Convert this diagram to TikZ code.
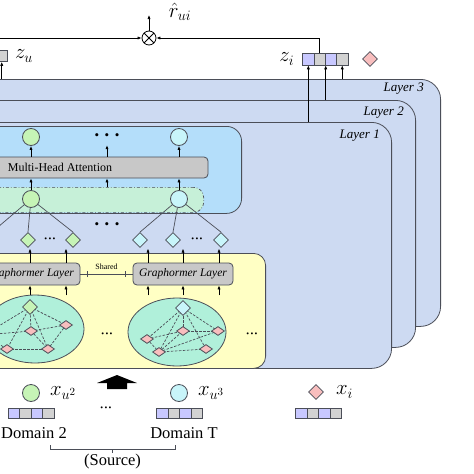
\documentclass[tikz,border=0pt]{standalone}
\usepackage{fontspec}
\setmainfont{Liberation Serif}
\usetikzlibrary{positioning,shapes.geometric,arrows.meta}
\definecolor{edgec}{RGB}{75,78,88}
\definecolor{laybg}{RGB}{205,218,242}
\definecolor{attbg}{RGB}{180,222,250}
\definecolor{bandbg}{RGB}{198,240,216}
\definecolor{boxgray}{RGB}{200,200,200}
\definecolor{greenn}{RGB}{198,244,182}
\definecolor{cyann}{RGB}{200,245,250}
\definecolor{pinkn}{RGB}{248,190,190}
\definecolor{yelbg}{RGB}{255,255,196}
\definecolor{ellbg}{RGB}{176,240,218}
\definecolor{embp}{RGB}{200,200,255}
\definecolor{embg}{RGB}{210,210,210}

\begin{document}
\begin{tikzpicture}[x=1pt,y=-1pt,
every node/.style={inner sep=0pt},
frame/.style={draw=edgec,line width=.8pt},
layer/.style={frame,rectangle,fill=laybg,rounded corners=20pt,anchor=north east,minimum width=480pt,minimum height=247pt},
lablay/.style={font=\fontsize{13}{13}\selectfont\itshape},
gbox/.style={frame,rectangle,fill=boxgray,rounded corners=4pt},
cnode/.style={frame,circle,minimum size=17pt},
dnode/.style={frame,diamond,minimum width=15pt,minimum height=15pt},
sdia/.style={frame,diamond,fill=pinkn,minimum width=13pt,minimum height=9pt},
cell/.style={draw=edgec,line width=.6pt,rectangle,minimum width=11.5pt,minimum height=10pt},
arr/.style={-{Latex[length=4pt,width=3.2pt]},line width=.7pt},
link/.style={draw=edgec,line width=.7pt},
dlink/.style={link,dashed,dash pattern=on 2.5pt off 1.5pt},
bigdots/.style={font=\fontsize{13}{13}\selectfont,minimum height=16pt},
smdots/.style={font=\fontsize{8}{8}\selectfont},
mathlab/.style={font=\fontsize{22}{22}\selectfont},
dtext/.style={font=\fontsize{16.5}{16.5}\selectfont}]
\useasboundingbox (0,0) rectangle (474,474);
\clip (0,0) rectangle (474,474);

% stacked layers
\node (lay3) [layer] at (441,79) {};
\node (lay2) [layer] at (416,100) {};
\node (lay1) [layer,minimum height=246pt] at (392,122) {};
\node (lab3) [lablay,below left=4pt and 17pt of lay3.north east] {Layer 3};
\node (lab2) [lablay,below left=7pt and 12pt of lay2.north east] {Layer 2};
\node (lab1) [lablay,below left=8pt and 12pt of lay1.north east] {Layer 1};

% attention part
\node (att) [frame,fill=attbg,rounded corners=15pt,anchor=north east,minimum width=300pt,minimum height=87pt] at (242,126) {};
\node (mha) [gbox,minimum width=296pt,minimum height=21pt,font=\fontsize{12}{12}\selectfont] at (60,167.5) {Multi-Head Attention};
\node (band) [draw=edgec,line width=.7pt,dash dot,fill=bandbg,rounded corners=10pt,anchor=north east,minimum width=250pt,minimum height=25pt] at (204,187) {};

\node (ho1) [cnode,fill=greenn] at (31,137) {};
\node (hodots) [bigdots] at (107,137) {\textbullet\hspace{5.5pt}\textbullet\hspace{5.5pt}\textbullet};
\node (ho3) [cnode,fill=cyann] at (179,137) {};
\node (hg1) [cnode,fill=greenn] at (31,199) {};
\node (hg3) [cnode,fill=cyann] at (179,199) {};
\coordinate (hgdots) at (107,187);

\foreach \n in {ho1,hodots,ho3}
  \draw[arr] (mha.north -| \n) -- (\n.south);
\foreach \n in {hg1,hg3}
  \draw[arr] (\n.north) -- (mha.south -| \n);
\draw[arr] (hgdots) -- (mha.south -| hgdots);

% graphormer outputs
\node (dg0) [dnode,fill=greenn] at (-8,240) {};
\node (dg1) [dnode,fill=greenn] at (28,240) {};
\node (dgdots) [smdots] at (50,240) {\textbullet\,\textbullet\,\textbullet};
\node (dg2) [dnode,fill=greenn] at (73,240) {};
\node (dc0) [dnode,fill=cyann] at (140,240) {};
\node (dc1) [dnode,fill=cyann] at (173,240) {};
\node (dcdots) [smdots] at (197,240) {\textbullet\,\textbullet\,\textbullet};
\node (dc2) [dnode,fill=cyann] at (221,240) {};
\node (mdots) [bigdots] at (107,226) {\textbullet\hspace{5.5pt}\textbullet\hspace{5.5pt}\textbullet};
\foreach \d in {dg0,dg1,dg2}
  \draw[link] (hg1) -- (\d.north);
\foreach \d in {dc0,dc1,dc2}
  \draw[link] (hg3) -- (\d.north);

% graphormer part
\node (yel) [frame,fill=yelbg,rounded corners=12pt,anchor=north east,minimum width=300pt,minimum height=115pt] at (266,253) {};
\node (gr1) [gbox,minimum width=100pt,minimum height=22pt,font=\fontsize{11.5}{11.5}\selectfont\itshape] at (30,274) {Graphormer Layer};
\node (gr2) [gbox,minimum width=100pt,minimum height=22pt,font=\fontsize{11.5}{11.5}\selectfont\itshape] at (183,274) {Graphormer Layer};
\draw[link] (gr1.east) -- (gr2.west);
\draw[link,{Bar[width=6pt]}-{Bar[width=6pt]},shorten <=7pt,shorten >=7pt] (gr1.east) -- (gr2.west)
  node (shr) [midway,above=4.5pt,font=\fontsize{8}{8}\selectfont] {Shared};
\foreach \g in {gr1,gr2}
  \foreach \dx in {-35,0,36} {
    \draw[arr] ([xshift=\dx pt]\g.north) -- ([xshift=\dx pt,yshift=14pt]\g.north);
    \draw[arr] ([xshift=\dx pt,yshift=-10pt]\g.south) -- ([xshift=\dx pt]\g.south);
  }

% subgraphs
\node (ell1) [frame,ellipse,fill=ellbg,minimum width=98pt,minimum height=68pt] at (35,329) {};
\node (ell2) [frame,ellipse,fill=ellbg,minimum width=98pt,minimum height=68pt] at (177,332) {};
\coordinate (p10) at (-16,335);
\coordinate (p11) at (31,331);
\coordinate (p12) at (66,325);
\coordinate (p13) at (7,349);
\coordinate (p14) at (48,349);
\coordinate (et1) at (30,307);
\coordinate (p21) at (183,331);
\coordinate (p22) at (218,331);
\coordinate (p23) at (147,339);
\coordinate (p24) at (159,352);
\coordinate (p25) at (206,349);
\coordinate (et2) at (183,308);
\foreach \a/\b in {et1/p10,et1/p11,et1/p12,et1/p13,et1/p14,p11/p12,p13/p14,p12/p14,p10/p11,p10/p13,p11/p14}
  \draw[dlink] (\a) -- (\b);
\foreach \a/\b in {et2/p21,et2/p22,et2/p23,et2/p24,et2/p25,p23/p21,p21/p22,p24/p22,p24/p25,p23/p24,p24/p21}
  \draw[dlink] (\a) -- (\b);
\foreach \n in {p10,p11,p12,p13,p14,p21,p22,p23,p24,p25}
  \node (d\n) [sdia] at (\n) {};
\node (det1) [dnode,fill=greenn] at (et1) {};
\node (det2) [dnode,fill=cyann] at (et2) {};
\node (sdots1) [smdots] at (107,335) {\textbullet\,\textbullet\,\textbullet};
\node (sdots2) [smdots] at (252,335) {\textbullet\,\textbullet\,\textbullet};

% outputs and prediction
\foreach \i/\c in {1/embp,2/embg,3/embp,4/embg}
  \node (zi\i) [cell,fill=\c,minimum height=12pt] at ({302.7+(\i-.5)*11.3},59) {};
\node (zu4) [cell,fill=embg,minimum height=11pt] at (1.75,56) {};
\node (zulab) [mathlab,right=7pt of zu4] {$z_u$};
\node (zilab) [mathlab,left=8pt of zi1] {$z_i$};
\node (zidia) [dnode,fill=pinkn] at (370,59) {};
\draw[arr] (lay3.north -| zu4) -- (zu4.south);
\draw[arr] (lay1.north -| zi1) -- (zi1.south);
\draw[arr] (lay2.north -| zi2.east) -- (zi2.south east);
\draw[arr] (lay3.north -| zi4) -- (zi4.south);

\node (otimes) [draw,line width=.8pt,circle,minimum size=14pt,
  path picture={\draw[line width=.8pt] (path picture bounding box.north west) -- (path picture bounding box.south east)
  (path picture bounding box.north east) -- (path picture bounding box.south west);}] at (149,38) {};
\coordinate (zuline) at (-5,38);
\coordinate (rtop) at (149,15);
\draw[arr] (zuline) -- (otimes);
\draw[arr] (zi2.north) |- (otimes);
\draw[arr] (otimes) -- (rtop);
\node (rlab) [mathlab] at (180,12) {$\hat{r}_{ui}$};

% inputs
\fill (97,383) -- (117,375) -- (137,383) -- (127,383) -- (127,389) -- (107,389) -- (107,383) -- cycle;
\node (xu2) [cnode,fill=greenn] at (31,393) {};
\node (xu3) [cnode,fill=cyann] at (179,393) {};
\node (xi) [dnode,fill=pinkn] at (316,392) {};
\node (lxu2) [mathlab,right=10pt of xu2] {$x_{u^2}$};
\node (lxu3) [mathlab,right=10pt of xu3] {$x_{u^3}$};
\node (lxi) [mathlab,right=12pt of xi] {$x_i$};
\foreach \i/\c in {1/embp,2/embg,3/embp,4/embg} {
  \node (eu2\i) [cell,fill=\c] at ({31+(\i-2.5)*11.5},413) {};
  \node (eu3\i) [cell,fill=\c] at ({179.5+(\i-2.5)*11.5},413) {};
  \node (ei\i) [cell,fill=\c] at ({318.5+(\i-2.5)*11.5},413) {};
}
\node (idots) [smdots] at (106,409) {\textbullet\,\textbullet\,\textbullet};
\node (dom2) [dtext] at (34,433) {Domain 2};
\node (domT) [dtext] at (184,433) {Domain T};
\coordinate (brl) at (50,449);
\coordinate (brr) at (175,449);
\coordinate (brm) at (112.5,449);
\draw[link] ([yshift=4pt]brl) -- (brl) -- (brr) -- ([yshift=4pt]brr);
\draw[link] (brm) -- ([yshift=-4pt]brm);
\node (src) [dtext] at (112.5,462) {(Source)};
\end{tikzpicture}
\end{document}
